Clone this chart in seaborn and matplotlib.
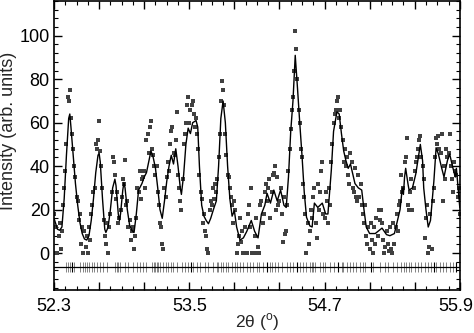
import numpy as np
import pandas as pd
import matplotlib
matplotlib.use("Agg")
import matplotlib.pyplot as plt
import matplotlib.transforms as mtransforms
import seaborn as sns
from matplotlib.ticker import MultipleLocator, FixedLocator

# ---------------- data ----------------
# calculated profile (2theta, intensity)
calc_x = [52.30, 52.33, 52.35, 52.37, 52.39, 52.41, 52.43, 52.44, 52.45, 52.47, 52.49, 52.51, 52.53,
          52.55, 52.57, 52.59, 52.61, 52.63, 52.65, 52.67, 52.69, 52.70, 52.71, 52.73, 52.75, 52.76,
          52.78, 52.80, 52.82, 52.84, 52.85, 52.87, 52.88, 52.89, 52.91, 52.92, 52.93, 52.95, 52.97,
          52.99, 53.01, 53.03, 53.05, 53.08, 53.10, 53.12, 53.14, 53.16, 53.18, 53.20, 53.22, 53.24,
          53.26, 53.28, 53.30, 53.32, 53.34, 53.36, 53.38, 53.40, 53.42, 53.43, 53.45, 53.47, 53.49,
          53.51, 53.53, 53.56, 53.575, 53.59, 53.61, 53.63, 53.65, 53.67, 53.69, 53.72, 53.74, 53.76,
          53.78, 53.80, 53.82, 53.84, 53.86, 53.88, 53.90, 53.92, 53.95, 53.98, 54.01, 54.05, 54.08,
          54.11, 54.14, 54.17, 54.19, 54.22, 54.25, 54.28, 54.31, 54.34, 54.36, 54.38, 54.40, 54.42,
          54.44, 54.46, 54.48, 54.50, 54.52, 54.54, 54.57, 54.59, 54.61, 54.64, 54.68, 54.71, 54.73,
          54.76, 54.78, 54.81, 54.83, 54.85, 54.87, 54.89, 54.91, 54.93, 54.95, 54.97, 55.00, 55.03,
          55.05, 55.07, 55.10, 55.15, 55.21, 55.25, 55.28, 55.32, 55.37, 55.39, 55.40, 55.41, 55.42,
          55.44, 55.45, 55.48, 55.51, 55.55, 55.57, 55.58, 55.60, 55.62, 55.64, 55.67, 55.69, 55.71,
          55.74, 55.76, 55.79, 55.81, 55.84, 55.86, 55.87, 55.90]
calc_y = [16, 11, 10.5, 12, 25, 45, 62, 64, 58, 45, 32, 22, 14,
          9, 6.5, 6, 8, 15, 25, 37, 45, 46, 42, 25, 11, 9.5,
          12, 20, 30, 34, 31, 18, 15, 18, 29, 32.5, 30, 20, 13,
          10.5, 9.5, 18, 29, 32, 35, 37, 42, 47, 44, 39, 30, 20,
          16, 24, 33, 40, 45, 41, 48, 40, 30, 27, 36, 50, 57.5,
          55, 60, 61, 58, 40, 22, 17, 15, 13.5, 16, 21, 24, 40,
          62, 70, 60, 40, 25, 17, 19.5, 12, 6, 7, 10, 15, 10,
          7, 18, 22, 27.5, 23, 29, 24, 29, 22, 21, 35, 56, 70,
          91, 76, 60, 45, 28, 16.5, 12.5, 12, 23, 21, 23, 18, 18,
          38, 56, 65, 64, 55, 47, 42.5, 39, 41, 36.5, 32, 30, 29,
          20, 12, 9, 9, 11.5, 8.5, 8, 9, 20, 30, 27, 35, 39,
          32, 29, 30, 36.5, 50, 42.5, 30, 20, 12, 15, 33, 48.5, 45.6,
          39, 35, 42.5, 45.6, 39, 35, 39, 21]

# observed points: 2theta from 52.30 to 55.90 in steps of 0.01
obs_start, obs_step = 52.30, 0.01
obs_y = [
    18, 0, 12, 0, 8, 14, 2, 10, 22, 30,
    38, 50, 72, 70, 75, 62, 55, 48, 40, 35,
    26, 24, 15, 18, 4, 12, 0, 10, 3, 8,
    0, 12, 6, 18, 22, 28, 30, 50, 48, 52,
    61, 47, 40, 30, 15, 8, 4, 14, 0, 12,
    18, 28, 44, 42, 36, 25, 28, 14, 16, 20,
    26, 34, 32, 43, 22, 24, 12, 15, 6, 10,
    12, 2, 8, 16, 30, 28, 38, 25, 34, 35,
    38, 30, 52, 55, 46, 58, 61, 48, 45, 40,
    36, 40, 28, 22, 14, 12, 4, 2, 30, 26,
    35, 42, 38, 50, 56, 58, 46, 45, 52, 65,
    36, 30, 24, 20, 34, 50, 55, 60, 68, 72,
    60, 66, 68, 70, 64, 58, 62, 55, 48, 36,
    28, 25, 14, 18, 10, 8, 2, 0, 20, 24,
    22, 30, 25, 32, 28, 34, 44, 55, 70, 79,
    75, 68, 55, 45, 36, 35, 30, 26, 22, 14,
    24, 20, 0, 4, 8, 16, 5, 10, 0, 12,
    0, 0, 18, 22, 12, 30, 0, 0, 8, 16,
    0, 3, 0, 22, 24, 14, 18, 28, 32, 24,
    30, 34, 16, 28, 36, 37, 40, 20, 35, 22,
    24, 30, 18, 5, 26, 9, 10, 22, 38, 48,
    57, 66, 72, 84, 102, 94, 80, 66, 60, 48,
    44, 32, 26, 18, 0, 14, 4, 10, 20, 16,
    26, 30, 14, 7, 32, 20, 28, 38, 42, 18,
    16, 28, 24, 14, 30, 22, 42, 50, 60, 64,
    66, 70, 72, 62, 66, 58, 52, 42, 48, 40,
    44, 36, 32, 46, 42, 30, 28, 39, 26, 24,
    36, 26, 32, 22, 18, 14, 22, 8, 4, 12,
    2, 14, 6, 0, 12, 4, 16, 8, 20, 15,
    20, 14, 6, 0, 3, 10, 4, 1, 12, 2,
    0, 14, 4, 12, 18, 10, 22, 24, 36, 28,
    30, 42, 44, 53, 22, 20, 28, 34, 20, 30,
    38, 42, 44, 48, 52, 54, 44, 40, 34, 7,
    16, 22, 0, 3, 18, 2, 24, 30, 44, 53,
    50, 54, 48, 46, 55, 24, 40, 34, 48, 44,
    46, 55, 40, 34, 28, 42, 38, 36, 26, 30, 18,
]
obs_x = [round(obs_start + i * obs_step, 4) for i in range(len(obs_y))]

# reflection positions
reflections_main = [52.457, 53.512, 54.186, 54.452, 54.82, 55.108, 55.669, 55.87]
reflections = [52.41, 52.427, 52.44, 52.477, 52.53, 52.554, 52.575, 52.595, 52.613,
               52.634, 52.655, 52.68, 52.708, 52.737, 52.773, 52.84, 52.856, 52.87, 52.885,
               52.93, 52.96, 53.003, 53.033, 53.06, 53.09, 53.12, 53.166, 53.187, 53.195,
               53.21, 53.225, 53.24, 53.269, 53.293, 53.313, 53.335, 53.358, 53.393, 53.432,
               53.461, 53.491, 53.535, 53.565, 53.594, 53.639, 53.668, 53.712, 53.742,
               53.757, 53.778, 53.801, 53.825, 53.845, 53.875, 53.905, 53.92, 53.949,
               53.978, 54.008, 54.038, 54.067, 54.097, 54.12, 54.156, 54.215, 54.23,
               54.259, 54.288, 54.319, 54.363, 54.392, 54.421, 54.481, 54.51, 54.54,
               54.57, 54.585, 54.599, 54.614, 54.658, 54.682, 54.702, 54.746, 54.782,
               54.851, 54.865, 54.895, 54.924, 54.953, 54.983, 55.013, 55.042, 55.057,
               55.131, 55.19, 55.234, 55.264, 55.308, 55.343, 55.382, 55.403, 55.427,
               55.45, 55.471, 55.5, 55.53, 55.56, 55.589, 55.618, 55.648, 55.693,
               55.722, 55.751, 55.781, 55.811, 55.84]
reflection_level = -6.3

x_ticks = [52.3, 53.5, 54.7, 55.9]
y_ticks = [0, 20, 40, 60, 80, 100]

# ---------------- plot ----------------
sns.set_style("ticks")
plt.rcParams['font.family'] = ['Liberation Sans', 'DejaVu Sans']
plt.rcParams['mathtext.fontset'] = 'custom'
plt.rcParams['mathtext.rm'] = 'Liberation Sans'

fig = plt.figure(figsize=(4.74, 3.33), dpi=100)
ax = fig.add_axes([0.114, 0.129, 0.856, 0.868])

obs_df = pd.DataFrame({"x": obs_x, "y": obs_y})
calc_df = pd.DataFrame({"x": calc_x, "y": calc_y})

sns.scatterplot(data=obs_df, x="x", y="y", ax=ax, marker="s", s=5,
                color="#404040", linewidth=0, zorder=2)
sns.lineplot(data=calc_df, x="x", y="y", ax=ax, color="black", linewidth=1.0,
             sort=False, estimator=None, zorder=3)

ax.axhline(reflection_level, color="black", linewidth=0.9, zorder=3)
ax.vlines(reflections, reflection_level - 2.3, reflection_level + 2.3,
          colors="#707070", linewidth=0.6, zorder=2)
ax.vlines(reflections_main, reflection_level - 2.3, reflection_level + 2.3,
          colors="black", linewidth=0.8, zorder=2)

ax.set_xlim(52.3, 55.9)
ax.set_ylim(-17, 116)

major_x = [52.3, 52.7, 53.1, 53.5, 53.9, 54.3, 54.7, 55.1, 55.5, 55.9]
ax.xaxis.set_major_locator(FixedLocator(major_x))
ax.xaxis.set_minor_locator(MultipleLocator(0.1))
ax.set_xticklabels([f"{v:.1f}" if any(abs(v - t) < 1e-6 for t in x_ticks) else "" for v in major_x])
ax.yaxis.set_major_locator(FixedLocator(y_ticks))
ax.set_yticklabels([str(v) for v in y_ticks])
ax.yaxis.set_minor_locator(MultipleLocator(4))

ax.tick_params(which="both", direction="in", top=True, right=True, colors="black",
               labelsize=13)
ax.tick_params(which="major", length=6, width=1.0)
ax.tick_params(which="minor", length=3, width=0.8)
ax.tick_params(axis="x", which="major", pad=6)
ax.tick_params(axis="y", which="major", pad=3)

# nudge the last x tick label so it stays inside the figure
last_lbl = ax.get_xticklabels()[-1]
last_lbl.set_transform(last_lbl.get_transform() +
                       mtransforms.ScaledTranslation(-4 / 100, 0, fig.dpi_scale_trans))

for sp in ax.spines.values():
    sp.set_linewidth(1.2)
    sp.set_color("black")

ax.set_xlabel(r"2θ ($^{\rm o}$)", fontsize=12.5)
ax.xaxis.set_label_coords(0.5, -0.075)
ax.set_ylabel("Intensity (arb. units)", fontsize=13)
ax.yaxis.set_label_coords(-0.092, 0.55)

fig.savefig("out.png", dpi=100)
